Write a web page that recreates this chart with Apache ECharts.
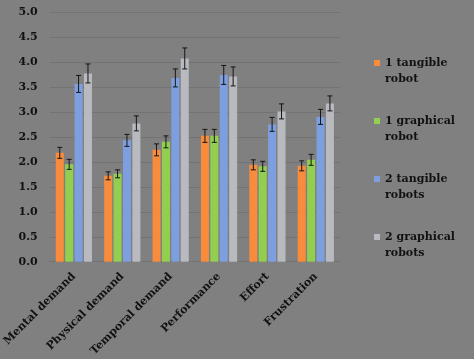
<!DOCTYPE html>
<html><head><meta charset="utf-8">
<script src="https://cdn.jsdelivr.net/npm/echarts@6/dist/echarts.min.js"></script>
<style>html,body{margin:0;padding:0;background:#808080;}#c{width:474px;height:359px;}</style>
</head><body><div id="c"></div>
<script>
const categories = ['Mental demand','Physical demand','Temporal demand','Performance','Effort','Frustration'];
const seriesNames = ['1 tangible robot','1 graphical robot','2 tangible robots','2 graphical robots'];
const legendLines = [['1 tangible','robot'],['1 graphical','robot'],['2 tangible','robots'],['2 graphical','robots']];
const tangible1 = [2.18, 1.72, 2.24, 2.52, 1.94, 1.92];
const graphical1 = [1.95, 1.76, 2.40, 2.52, 1.91, 2.04];
const tangible2 = [3.56, 2.43, 3.68, 3.74, 2.75, 2.90];
const graphical2 = [3.77, 2.77, 4.07, 3.71, 3.01, 3.17];
const err1t = [0.11, 0.08, 0.12, 0.13, 0.10, 0.10];
const err1g = [0.10, 0.08, 0.12, 0.13, 0.10, 0.11];
const err2t = [0.17, 0.12, 0.18, 0.19, 0.14, 0.15];
const err2g = [0.19, 0.15, 0.21, 0.19, 0.15, 0.15];
const yTicks = ['0.0','0.5','1.0','1.5','2.0','2.5','3.0','3.5','4.0','4.5','5.0'];

const values = [tangible1, graphical1, tangible2, graphical2];
const errors = [err1t, err1g, err2t, err2g];
const colors = ['#f88b3c','#92cf50','#7d9fe0','#b9bac0'];
const BW = 8, GAP = 1.4;
const font = '"DejaVu Serif", serif';

const chart = echarts.init(document.getElementById('c'));
const series = [];
values.forEach((v, i) => {
  series.push({name: seriesNames[i], type: 'bar', data: v, barWidth: BW, barGap: (GAP/BW*100)+'%',
    itemStyle: {color: colors[i]}, z: 2});
});
values.forEach((v, i) => {
  const off = -((4*BW+3*GAP)/2) + BW/2 + i*(BW+GAP);
  series.push({type: 'custom', z: 5, silent: true,
    data: v.map((val, k) => [k, val - errors[i][k], val + errors[i][k]]),
    renderItem: function(params, api) {
      const lo = api.coord([api.value(0), api.value(1)]);
      const hi = api.coord([api.value(0), api.value(2)]);
      const x = lo[0] + off, hw = 2.5;
      const st = {stroke: '#151515', lineWidth: 1};
      return {type: 'group', children: [
        {type: 'line', shape: {x1: x, y1: lo[1], x2: x, y2: hi[1]}, style: st},
        {type: 'line', shape: {x1: x-hw, y1: lo[1], x2: x+hw, y2: lo[1]}, style: st},
        {type: 'line', shape: {x1: x-hw, y1: hi[1], x2: x+hw, y2: hi[1]}, style: st}
      ]};
    }
  });
});
const legendTops = [18, 76, 134, 192];
const legends = seriesNames.map((n, i) => ({
  orient: 'vertical', left: 369, top: legendTops[i], data: [n],
  itemWidth: 6, itemHeight: 6, itemGap: 0, icon: 'rect',
  formatter: () => '\n\n' + legendLines[i][0] + '\n' + legendLines[i][1] + '\n',
  textStyle: {fontFamily: font, fontWeight: 'bold', fontSize: 11, color: '#111', lineHeight: 16}
}));
chart.setOption({
  backgroundColor: '#808080',
  animation: false,
  grid: {left: 45, right: 134, top: 12, bottom: 97},
  legend: legends,
  xAxis: {type: 'category', data: categories,
    axisLine: {lineStyle: {color: '#737373'}}, axisTick: {show: false},
    axisLabel: {rotate: 45, interval: 0, fontFamily: font, fontWeight: 'bold', fontSize: 11, color: '#111', margin: 13}},
  yAxis: {type: 'value', min: 0, max: 5, interval: 0.5,
    axisLine: {show: false}, axisTick: {show: false},
    splitLine: {lineStyle: {color: '#737373'}},
    axisLabel: {formatter: (v) => yTicks[Math.round(v/0.5)], fontFamily: font, fontWeight: 'bold', fontSize: 11, color: '#111', margin: 12}},
  series: series
});
</script></body></html>
